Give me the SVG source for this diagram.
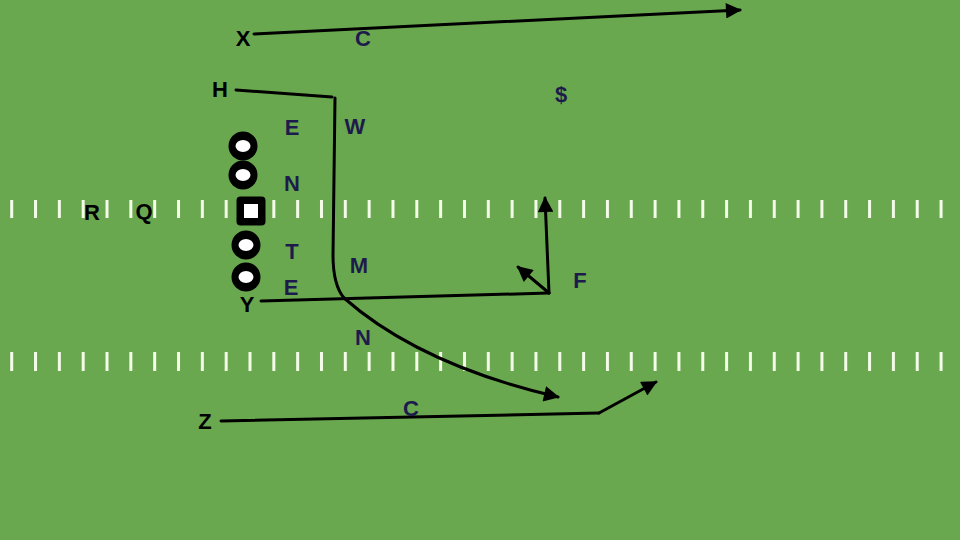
<svg xmlns="http://www.w3.org/2000/svg" width="960" height="540" viewBox="0 0 960 540">
<defs>
<marker id="ah" viewBox="0 0 10 10" refX="9" refY="5" markerWidth="6.5" markerHeight="5.2" markerUnits="strokeWidth" orient="auto">
<path d="M0,0 L10,5 L0,10 z" fill="#000"/>
</marker>
<pattern id="hash" x="10.2" y="0" width="23.83" height="540" patternUnits="userSpaceOnUse">
<rect x="0" y="0" width="3" height="540" fill="#f4fbe8"/>
</pattern>
<style>
.o{font-family:"Liberation Sans",Arial,sans-serif;font-weight:bold;font-size:22px;fill:#000;text-anchor:middle;dominant-baseline:central}
.d{font-family:"Liberation Sans",Arial,sans-serif;font-weight:bold;font-size:22px;fill:#1d1b4c;text-anchor:middle;dominant-baseline:central}
.r{fill:none;stroke:#000;stroke-width:3;stroke-linecap:round;stroke-linejoin:round}
</style>
</defs>
<rect width="960" height="540" fill="#6aa84f"/>
<g id="hashes">
<rect x="0" y="200" width="950" height="18" fill="url(#hash)"/>
<rect x="0" y="352" width="950" height="19" fill="url(#hash)"/>
</g>
<g id="connectors">
<path class="r" d="M254,34 L740,10" marker-end="url(#ah)"/>
<path class="r" d="M236,90 L332,97"/>
<path class="r" d="M335,98 L333,255 Q333,285 344,298"/>
<path class="r" d="M344,298 Q420,365 558,397" marker-end="url(#ah)"/>
<path class="r" d="M261,301 L549,293"/>
<path class="r" d="M549,293 L545,198" marker-end="url(#ah)"/>
<path class="r" d="M549,293 L518,267" marker-end="url(#ah)"/>
<path class="r" d="M221,421 L599,413"/>
<path class="r" d="M599,413 L656,382" marker-end="url(#ah)"/>
</g>
<g id="offense">
<g id="p1"><circle cx="243" cy="146" r="14.5" fill="#000"/><ellipse cx="243" cy="146" rx="7.5" ry="6" fill="#fff"/></g>
<g id="p2"><circle cx="243" cy="175" r="14.5" fill="#000"/><ellipse cx="243" cy="175" rx="7.5" ry="6" fill="#fff"/></g>
<g id="center"><rect x="236.5" y="196.5" width="29" height="29" rx="4" fill="#000"/><rect x="244" y="204" width="14" height="14" fill="#fff"/></g>
<g id="p4"><circle cx="246" cy="245" r="14.5" fill="#000"/><ellipse cx="246" cy="245" rx="7.5" ry="6" fill="#fff"/></g>
<g id="p5"><circle cx="246" cy="277" r="14.5" fill="#000"/><ellipse cx="246" cy="277" rx="7.5" ry="6" fill="#fff"/></g>
<g id="X"><text class="o" x="243" y="38">X</text></g>
<g id="H"><text class="o" x="220" y="89">H</text></g>
<g id="R"><text class="o" x="92" y="212">R</text></g>
<g id="Q"><text class="o" x="144" y="211">Q</text></g>
<g id="Y"><text class="o" x="247" y="304">Y</text></g>
<g id="Z"><text class="o" x="205" y="421">Z</text></g>
</g>
<g id="defense">
<g id="C1"><text class="d" x="363" y="38">C</text></g>
<g id="S"><text class="d" x="561" y="94">$</text></g>
<g id="E1"><text class="d" x="292" y="127">E</text></g>
<g id="W"><text class="d" x="355" y="126">W</text></g>
<g id="N1"><text class="d" x="292" y="183">N</text></g>
<g id="T"><text class="d" x="292" y="251">T</text></g>
<g id="M"><text class="d" x="359" y="265">M</text></g>
<g id="E2"><text class="d" x="291" y="287">E</text></g>
<g id="F"><text class="d" x="580" y="280">F</text></g>
<g id="N2"><text class="d" x="363" y="337">N</text></g>
<g id="C2"><text class="d" x="411" y="408">C</text></g>
</g>
</svg>
